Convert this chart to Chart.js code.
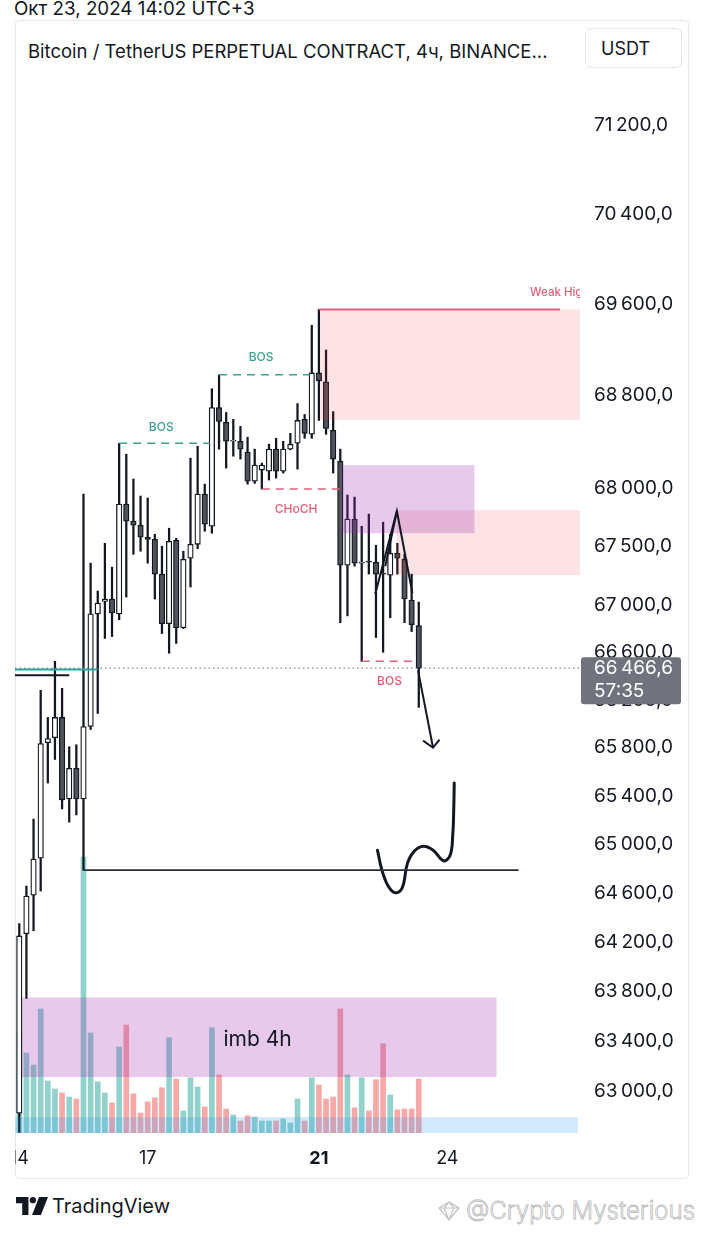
<!DOCTYPE html>
<html>
<head>
<meta charset="utf-8">
<script src="https://cdn.jsdelivr.net/npm/chart.js@4.4.1/dist/chart.umd.min.js"></script>
<style>
  body { margin: 0; width: 704px; height: 1233px; background: #fff; position: relative; overflow: hidden;
         font-family: Inter, "Noto Sans", sans-serif; color: #131722; }
  #date { position: absolute; left: 14px; top: -2px; font-size: 18.8px; line-height: 22px; }
  #card { position: absolute; left: 15px; top: 20px; width: 672px; height: 1157px; border: 1px solid #e6e8ee; border-radius: 4px; }
  #title { position: absolute; left: 28px; top: 40px; font-size: 18.5px; line-height: 22px; }
  #cur { position: absolute; left: 585px; top: 28px; width: 97px; height: 40px; border: 1px solid #e6e8ee; border-radius: 6px;
         font-size: 18px; display: flex; align-items: center; padding-left: 15px; box-sizing: border-box; }
  #wrap { position: absolute; left: 15px; top: 75px; width: 673px; height: 1103px; }
  #brand { position: absolute; left: 16px; top: 1194px; display: flex; align-items: center; gap: 4px; font-size: 20px; }
  #mark { position: absolute; left: 436px; top: 1196px; display: flex; align-items: center; gap: 4px; font-size: 24px; font-weight: 300;
          color: #fff; -webkit-text-stroke: 0.8px #b9b9b9; }
</style>
</head>
<body>
<div id="date">Окт 23, 2024 14:02 UTC+3</div>
<div id="card"></div>
<div id="title">Bitcoin / TetherUS PERPETUAL CONTRACT, 4ч, BINANCE...</div>
<div id="cur">USDT</div>
<div id="wrap"><canvas id="chart" width="673" height="1103"></canvas></div>
<div id="brand">
  <svg width="32" height="18" viewBox="0 0 36 20"><path d="M0 0h14v20H7V7H0z" fill="#131722"/><circle cx="19" cy="3.5" r="3.5" fill="#131722"/><path d="M26 0h10l-8 20H18z" fill="#131722"/></svg>
  <span>TradingView</span>
</div>
<div id="mark">
  <svg width="26" height="22" viewBox="0 0 26 22"><path d="M3 8l10-6 10 6-10 12z M3 8h20 M8 8l5 12 5-12 M8 8l5-6 5 6" fill="none" stroke="#c4c4c4" stroke-width="1.2"/></svg>
  <span>@Crypto Mysterious</span>
</div>

<script>
const FONT = 'Inter, "Noto Sans", sans-serif';
const INK = '#131722';

// 4h candles, Oct 14 -> Oct 23 (index 0 = Oct 14 00:00)
const opens  = [62824, 64267, 64583, 64886, 65842, 65884, 66053, 65375, 65629, 65375,
                65977, 66925, 67030, 67051, 66925, 67862, 67716, 67681, 67578, 67560,
                67263, 66842, 67552, 66808, 67398, 67517, 67948, 67672, 68697, 68568,
                68404, 68404, 68310, 68060, 68155, 68146, 68336, 68146, 68336, 68387,
                68594, 68465, 68999, 68921, 68499, 68232, 67339, 67733, 67356, 67373,
                67364, 67270, 67254, 67441, 67390, 67042, 66825];
const highs  = [64350, 64657, 65208, 66280, 66053, 66524, 66297, 65808, 65825, 67948,
                67356, 67119, 67526, 67322, 68387, 68293, 68078, 67931, 67914, 67603,
                67500, 67655, 67569, 67458, 68258, 68361, 68034, 68861, 68982, 68654,
                68594, 68533, 68439, 68336, 68215, 68379, 68430, 68404, 68473, 68731,
                68637, 69417, 69556, 69200, 68662, 68336, 67940, 67922, 67672, 67776,
                67509, 67707, 67603, 67526, 67432, 67263, 67025];
const lows   = [62670, 63743, 64292, 64616, 65506, 65702, 65292, 65183, 65242, 64788,
                65952, 66086, 66717, 66733, 66875, 67068, 67432, 67458, 67356, 67051,
                66758, 66592, 66675, 66800, 67153, 67480, 67629, 67612, 68336, 68172,
                68275, 68250, 68034, 68040, 67991, 68069, 68086, 68129, 68330, 68163,
                68430, 68430, 68585, 68465, 68129, 66850, 66908, 67331, 66524, 67263,
                66725, 66600, 66892, 67263, 66850, 66775, 66137];
const closes = [64250, 64575, 64878, 65834, 65876, 66053, 65367, 65629, 65375, 65977,
                66925, 67017, 67050, 66933, 67862, 67716, 67681, 67578, 67560, 67263,
                66842, 67543, 66808, 67390, 67517, 67948, 67690, 68697, 68576, 68404,
                68412, 68336, 68060, 68198, 68198, 68336, 68146, 68336, 68379, 68585,
                68473, 68999, 68930, 68516, 68250, 67339, 67733, 67356, 67364, 67364,
                67263, 67263, 67441, 67398, 67051, 66833, 66466.6];
// volume, thousand BTC
const volumes = [25, 20, 17, 31, 13, 11, 10, 9, 8.5, 69,
                 25, 12.8, 10, 7.5, 21.5, 27, 9.8, 5, 7.8, 8.8,
                 11.3, 23.8, 13.5, 5.5, 13.8, 11.5, 6.5, 26.3, 14.5, 6,
                 4.5, 3, 4.3, 4, 3, 3, 3, 3.5, 2.5, 8.5,
                 3, 13.8, 12, 8.5, 9, 31, 14.5, 6.3, 13.8, 5.5,
                 13.3, 22.3, 9.5, 5.8, 6, 6, 13.5];

const tickIdx = [0, 18, 42, 60];
const tickLabels = ['14', '17', '21', '24'];
const boldTick = 42;
const priceTicks = [63000, 63400, 63800, 64200, 64600, 65000, 65400, 65800, 66200,
                    66600, 67000, 67500, 68000, 68800, 69600, 70400, 71200];
const lastPrice = 66466.6;
const countdown = '57:35';

// drawings: [fromIndex, toIndex, price]
const bosUp   = [[14, 26.7, 68387], [28, 40.7, 68982]];
const bosDown = [[48, 55.5, 66524]];
const chochs  = [[34, 45, 67991]];
const weakHigh = [42, 75.8, 69556];
const support  = [9, 70, 64788];
const tealRay  = [-0.6, 11, 66455];
const blackRay = [-0.6, 7, 66406];
// zones: [fromIndex, toIndex, lowPrice, highPrice]
const supplyZones = [[42.2, 78.6, 68590, 69556], [52.9, 78.6, 67254, 67810]];
const imbZones    = [[45.25, 63.8, 67612, 68198], [0.38, 66.9, 63112, 63751]];
const blueZones   = [[-0.6, 78.3, 62500, 62792]];
// hand drawn strokes: [index, price]
const arrowLine = [[55.9, 66448], [58.0, 65800]];
const arrowHead = [[56.6, 65859], [58.0, 65800], [58.9, 65867]];
const zigzag    = [[49.9, 67093], [52.93, 67802], [55.1, 67102]];
const zigzag2   = [[52.93, 67802], [51.3, 67330]];
const wave = [[50.21, 64951], [50.83, 64788], [51.71, 64657], [52.69, 64602], [53.67, 64641],
              [54.42, 64845], [55.36, 64943], [56.66, 64984], [58.02, 64951], [59.47, 64864],
              [60.4, 64910], [60.76, 65075], [60.9, 65283], [60.97, 65506]];
// text notes: [text, index, price]
const notesTeal = [['BOS', 19.9, 68525], ['BOS', 33.9, 69139]];
const notesRed  = [['CHoCH', 38.8, 67819], ['BOS', 51.9, 66356]];

const isUp = closes.map((c, i) => c >= opens[i]);

function fmtPrice(v) {
  const [i, d] = v.toFixed(1).split('.');
  return i.replace(/\B(?=(\d{3})+(?!\d))/g, '\u2009') + ',' + d;
}

const pts = arr => arr.map(([x, y]) => ({ x, y }));
function lineDs(points, color, width, extra) {
  return Object.assign({
    type: 'line', data: pts(points), borderColor: color, borderWidth: width,
    pointRadius: 0, fill: false, tension: 0, yAxisID: 'y', order: 1
  }, extra || {});
}
const levelDs = (lv, color, width, extra) => lineDs([[lv[0], lv[2]], [lv[1], lv[2]]], color, width, extra);

const TEAL = '#3f9f92', RED = '#e0607a';
const datasets = [
  {
    type: 'bar', label: 'volume', yAxisID: 'yVol', order: 5, grouped: false,
    data: volumes.map((v, i) => ({ x: i, y: v })),
    backgroundColor: isUp.map(u => u ? 'rgba(38,166,154,0.5)' : 'rgba(239,83,80,0.5)'),
    categoryPercentage: 1, barPercentage: 1, maxBarThickness: 5
  },
  {
    type: 'bar', label: 'wick', yAxisID: 'y', order: 4, grouped: false,
    data: lows.map((l, i) => ({ x: i, y: [l, highs[i]] })),
    backgroundColor: INK, categoryPercentage: 1, barPercentage: 1, maxBarThickness: 1.6
  },
  {
    type: 'bar', label: 'body', yAxisID: 'y', order: 3, grouped: false,
    data: opens.map((o, i) => ({ x: i, y: [o, closes[i]] })),
    backgroundColor: isUp.map(u => u ? '#ffffff' : '#505359'),
    borderColor: INK, borderWidth: 1.3, borderSkipped: false,
    categoryPercentage: 1, barPercentage: 1, maxBarThickness: 5.5
  },
  levelDs([-0.6, 78.6, lastPrice], '#6a6d78', 1, { borderDash: [1.5, 3] }),
  levelDs(tealRay, '#26a69a', 2),
  levelDs(blackRay, INK, 2),
  levelDs(support, '#2a2e39', 1.6),
  levelDs(weakHigh, RED, 2),
  ...bosUp.map(l => levelDs(l, TEAL, 1.5, { borderDash: [8, 6] })),
  ...chochs.map(l => levelDs(l, RED, 1.5, { borderDash: [8, 6] })),
  ...bosDown.map(l => levelDs(l, RED, 1.5, { borderDash: [8, 6] })),
  lineDs(arrowLine, INK, 2),
  lineDs(arrowHead, INK, 2),
  lineDs(zigzag, INK, 2),
  lineDs(zigzag2, INK, 2),
  lineDs(wave, INK, 3, { tension: 0.4, borderCapStyle: 'round', borderJoinStyle: 'round' })
];

function fillZones(chart, zones, color) {
  const { ctx, scales: { x, y } } = chart;
  ctx.fillStyle = color;
  zones.forEach(([a, b, lo, hi]) => {
    const x0 = x.getPixelForValue(a), x1 = x.getPixelForValue(b);
    const y0 = y.getPixelForValue(hi), y1 = y.getPixelForValue(lo);
    ctx.fillRect(x0, y0, x1 - x0, y1 - y0);
  });
}

const drawings = {
  id: 'drawings',
  afterDatasetDraw(chart, args) {
    if (args.index !== 2) return;
    const { ctx, chartArea: a } = chart;
    ctx.save();
    ctx.beginPath(); ctx.rect(a.left, a.top, a.width, a.height); ctx.clip();
    fillZones(chart, supplyZones, 'rgba(242,54,69,0.14)');
    fillZones(chart, imbZones, 'rgba(156,39,176,0.25)');
    fillZones(chart, blueZones, 'rgba(33,150,243,0.2)');
    ctx.restore();
  },
  afterDatasetsDraw(chart) {
    const { ctx, chartArea: a, scales: { x, y } } = chart;
    ctx.save();
    ctx.beginPath(); ctx.rect(a.left, a.top, a.width, a.height); ctx.clip();
    ctx.textBaseline = 'middle';
    ctx.textAlign = 'center';
    ctx.font = '500 12px ' + FONT;
    ctx.fillStyle = TEAL;
    notesTeal.forEach(([t, i, p]) => ctx.fillText(t, x.getPixelForValue(i), y.getPixelForValue(p)));
    ctx.fillStyle = RED;
    notesRed.forEach(([t, i, p]) => ctx.fillText(t, x.getPixelForValue(i), y.getPixelForValue(p)));
    ctx.textAlign = 'left';
    ctx.font = '500 11.5px ' + FONT;
    ctx.fillText('Weak High', x.getPixelForValue(71.6), y.getPixelForValue(69706));
    ctx.fillStyle = INK;
    ctx.font = '21px ' + FONT;
    ctx.textAlign = 'center';
    ctx.fillText('imb 4h', x.getPixelForValue(33.4), y.getPixelForValue(63408));
    ctx.restore();
  },
  afterDraw(chart) {
    const { ctx, chartArea: a, scales: { y } } = chart;
    const py = y.getPixelForValue(lastPrice);
    ctx.save();
    ctx.fillStyle = '#70737e';
    ctx.beginPath();
    ctx.roundRect(a.right + 1, py - 11, 100, 47, 3);
    ctx.fill();
    ctx.fillStyle = '#ffffff';
    ctx.font = '19px ' + FONT;
    ctx.textBaseline = 'middle';
    ctx.textAlign = 'left';
    ctx.fillText(fmtPrice(lastPrice), a.right + 14, py);
    ctx.fillText(countdown, a.right + 14, py + 23);
    ctx.restore();
  }
};

Chart.defaults.font.family = FONT;
Chart.defaults.color = INK;

new Chart(document.getElementById('chart'), {
  type: 'bar',
  data: { datasets },
  options: {
    responsive: false,
    animation: false,
    events: [],
    layout: { padding: { top: 5, left: 0, right: 0, bottom: 0 } },
    plugins: { legend: { display: false }, tooltip: { enabled: false } },
    scales: {
      x: {
        type: 'linear', min: -0.6, max: 78.6, offset: false,
        grid: { display: false, drawTicks: false }, border: { display: false },
        afterBuildTicks: s => { s.ticks = tickIdx.map(v => ({ value: v })); },
        afterFit: s => { s.height = 45; s.paddingLeft = 0; s.paddingRight = 0; },
        ticks: {
          autoSkip: false, maxRotation: 0, padding: 15, color: INK,
          font: c => ({ size: 18, family: FONT, weight: c.tick && c.tick.value === boldTick ? 'bold' : 'normal' }),
          callback: v => tickLabels[tickIdx.indexOf(v)] ?? ''
        }
      },
      y: {
        type: 'logarithmic', position: 'right', min: 62666, max: 71607,
        grid: { display: false, drawTicks: false }, border: { display: false },
        afterBuildTicks: s => { s.ticks = priceTicks.map(v => ({ value: v })); },
        afterFit: s => { s.width = 108; s.paddingTop = 0; s.paddingBottom = 0; },
        ticks: {
          autoSkip: false, padding: 14, color: INK, font: { size: 19, family: FONT },
          callback: v => fmtPrice(v)
        }
      },
      yVol: {
        type: 'linear', display: false, min: 0, max: 263.25
      }
    }
  },
  plugins: [drawings]
});
</script>
</body>
</html>
